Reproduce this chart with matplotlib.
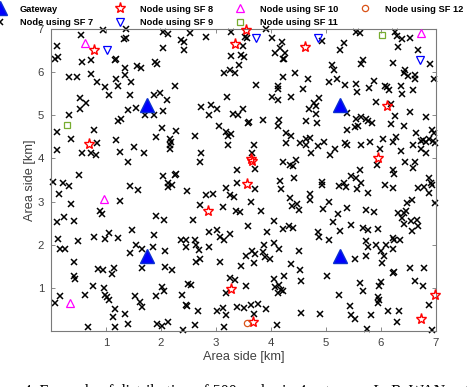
import numpy as np
import matplotlib.pyplot as plt

plt.rcParams['font.family'] = ['Liberation Sans', 'DejaVu Sans']

# node positions [km]
gateways = [(1.75, 5.25), (5.25, 5.25), (1.75, 1.75), (5.25, 1.75)]

sf7_top_left = [
    (0.55, 6.85), (0.95, 6.98), (1.37, 6.99), (1.36, 6.80), (1.33, 6.76), (2.04, 6.94), (2.13, 6.88),
    (0.10, 6.61), (2.04, 6.57), (0.07, 6.30), (0.13, 6.35), (0.57, 6.23), (0.72, 6.27), (1.16, 6.27),
    (1.19, 6.30), (1.89, 6.24), (1.92, 6.18), (1.34, 6.10), (1.57, 6.14), (1.63, 6.09), (0.32, 5.89),
    (0.47, 5.89), (0.72, 5.95), (1.34, 5.93), (1.19, 5.85), (0.84, 5.78), (1.46, 5.78), (1.22, 5.68),
    (0.99, 5.66), (2.25, 5.69), (1.06, 5.47), (1.44, 5.47), (1.87, 5.46), (1.98, 5.52), (0.53, 5.41),
    (0.64, 5.28), (2.10, 5.35), (0.53, 5.14), (1.40, 5.12), (1.55, 5.16), (1.70, 5.00), (1.87, 5.00),
    (2.04, 5.11), (0.32, 5.00), (1.22, 4.87), (1.28, 4.91), (0.79, 4.67), (2.01, 4.71), (0.10, 4.61),
    (2.27, 4.64), (1.90, 4.50), (0.36, 4.44), (2.16, 4.44), (2.19, 4.39), (2.17, 4.31), (2.16, 4.23),
    (1.18, 4.42), (0.84, 4.36), (1.51, 4.27), (0.10, 4.19), (0.56, 4.12), (0.73, 4.12), (0.81, 4.08),
    (1.25, 4.16), (1.69, 4.12), (1.40, 3.92), (0.51, 3.62), (2.04, 3.59), (2.27, 3.65), (2.25, 3.62),
]
sf7_top_mid = [
    (2.52, 6.90), (2.82, 6.81), (2.36, 6.74), (2.41, 6.71), (2.42, 6.51), (3.28, 6.93), (3.90, 6.99),
    (3.52, 6.81), (3.57, 6.79), (4.01, 6.80), (3.49, 6.61), (4.20, 6.70), (4.16, 6.55), (4.08, 6.44),
    (4.26, 6.44), (3.27, 6.37), (3.45, 6.40), (3.51, 6.34), (4.24, 6.31), (4.22, 6.30), (3.42, 6.17),
    (3.25, 6.06), (3.14, 5.97), (3.35, 5.99), (4.44, 5.99), (4.22, 5.89), (3.72, 5.70), (4.12, 5.68),
    (4.13, 5.60), (4.58, 5.62), (3.20, 5.42), (4.02, 5.42), (4.12, 5.35), (4.37, 5.43), (2.72, 5.19),
    (2.90, 5.23), (3.02, 5.15), (3.49, 5.14), (2.87, 5.01), (3.31, 5.04), (3.40, 5.00), (3.60, 4.84),
    (3.58, 4.83), (3.86, 4.89), (4.15, 4.89), (4.63, 4.87), (3.06, 4.75), (4.13, 4.75), (3.18, 4.61),
    (3.22, 4.53), (3.27, 4.56), (4.27, 4.58), (4.37, 4.52), (2.61, 4.53), (4.64, 4.46), (4.70, 4.48),
    (4.28, 4.35), (4.53, 4.35), (4.64, 4.31), (3.21, 4.31), (3.69, 4.30), (3.66, 4.13), (2.72, 4.13),
    (4.72, 4.12), (2.70, 3.92), (4.22, 3.92), (4.46, 3.96), (4.34, 3.84), (4.40, 3.82), (3.70, 3.76),
    (3.39, 3.73), (4.42, 3.55),
]
sf7_top_right = [
    (5.55, 6.93), (5.61, 6.91), (4.93, 6.72), (6.26, 6.93), (6.29, 6.84), (6.38, 6.76), (6.52, 6.80),
    (5.32, 6.67), (5.26, 6.51), (6.30, 6.59), (6.67, 6.51), (5.11, 6.16), (5.14, 6.06), (5.67, 6.27),
    (5.64, 6.20), (6.21, 6.22), (6.44, 6.06), (6.41, 5.97), (6.49, 5.91), (6.62, 5.93), (6.61, 5.85),
    (6.89, 6.18), (4.67, 5.85), (5.05, 5.77), (5.20, 5.85), (5.35, 5.70), (5.55, 5.73), (5.56, 5.54),
    (5.78, 5.64), (5.88, 5.79), (6.08, 5.69), (6.11, 5.66), (6.14, 5.58), (6.36, 5.69), (6.59, 5.58),
    (6.39, 5.50), (6.97, 5.83), (4.87, 5.41), (4.79, 5.29), (4.82, 5.21), (5.91, 5.31), (6.18, 5.27),
    (6.53, 5.08), (4.69, 5.14), (4.82, 5.04), (5.38, 5.06), (5.55, 4.92), (5.64, 4.97), (5.73, 4.91),
    (5.76, 4.87), (5.84, 4.81), (6.26, 4.98), (6.82, 4.97), (4.83, 4.81), (6.18, 4.79), (6.41, 4.75),
    (5.52, 4.74), (5.59, 4.75), (5.39, 4.66), (6.93, 4.66), (6.97, 4.58), (6.64, 4.60), (6.03, 4.46),
    (6.27, 4.50), (4.85, 4.29), (4.97, 4.39), (5.35, 4.36), (5.39, 4.31), (5.64, 4.31), (5.80, 4.39),
    (5.98, 4.23), (6.22, 4.39), (6.73, 4.40), (6.77, 4.42), (6.82, 4.39), (6.87, 4.44), (6.94, 4.40),
    (6.99, 4.36), (6.59, 4.31), (6.73, 4.23), (6.82, 4.12), (5.07, 4.07), (5.17, 4.21), (6.36, 4.17),
    (5.92, 3.84), (6.44, 3.92), (6.61, 3.92), (6.58, 3.77), (5.62, 3.73), (6.22, 3.73), (6.24, 3.65),
    (5.45, 3.59), (5.55, 3.55), (6.88, 3.54),
]
sf7_bottom_left = [
    (0.04, 3.45), (0.22, 3.42), (0.32, 3.35), (0.14, 3.18), (1.43, 3.35), (1.58, 3.26), (2.13, 3.43),
    (2.20, 3.39), (2.13, 3.33), (0.36, 2.94), (1.25, 3.01), (0.89, 2.77), (0.93, 2.71), (0.10, 2.53),
    (0.24, 2.64), (0.42, 2.54), (1.90, 2.66), (2.06, 2.57), (1.48, 2.33), (1.06, 2.27), (0.98, 2.14),
    (0.78, 2.17), (1.22, 2.16), (0.13, 2.13), (0.49, 2.08), (1.87, 2.22), (1.55, 1.99), (1.66, 1.90),
    (1.86, 1.95), (0.16, 1.89), (0.25, 1.89), (1.43, 1.81), (2.08, 1.86), (0.41, 1.59), (0.86, 1.44),
    (0.95, 1.41), (1.14, 1.46), (1.10, 1.31), (1.66, 1.46), (2.08, 1.48), (2.20, 1.41), (0.41, 1.28),
    (0.43, 1.21), (0.76, 1.04), (0.96, 1.00), (0.98, 0.84), (1.01, 0.79), (1.06, 0.71), (2.01, 1.02),
    (2.05, 0.92), (0.17, 0.80), (0.07, 0.66), (0.61, 0.84), (1.52, 0.80), (1.61, 0.67), (1.66, 0.56),
    (1.90, 0.80), (1.16, 0.52), (1.34, 0.40), (1.13, 0.33), (1.40, 0.17), (0.67, 0.09), (1.17, 0.09),
    (1.92, 0.17), (2.02, 0.11), (2.12, 0.21),
]
sf7_bottom_mid = [
    (2.48, 3.24), (2.81, 3.16), (2.95, 3.18), (3.18, 3.32), (3.39, 3.42), (3.25, 3.15), (3.33, 3.11),
    (3.70, 3.28), (4.16, 3.47), (4.19, 3.28), (4.34, 3.08), (4.48, 2.95), (4.39, 2.89), (4.50, 2.81),
    (4.70, 3.18), (4.70, 3.03), (2.70, 2.93), (3.12, 2.87), (3.64, 2.98), (3.36, 2.77), (3.43, 2.75),
    (3.81, 2.77), (2.58, 2.57), (4.05, 2.54), (3.58, 2.43), (4.33, 2.43), (4.40, 2.39), (4.22, 2.37),
    (3.92, 2.30), (2.87, 2.29), (3.02, 2.33), (3.07, 2.18), (3.15, 2.12), (3.25, 2.25), (2.37, 2.12),
    (2.46, 2.12), (2.61, 2.10), (2.46, 1.95), (2.64, 2.00), (2.69, 1.87), (2.87, 1.94), (3.87, 2.00),
    (4.05, 2.03), (4.15, 1.90), (4.50, 1.86), (3.66, 1.86), (3.70, 1.79), (3.54, 1.75), (3.86, 1.82),
    (3.89, 1.72), (3.98, 1.68), (2.70, 1.67), (2.64, 1.59), (3.07, 1.60), (3.69, 1.58), (3.46, 1.50),
    (4.37, 1.55), (4.52, 1.42), (4.24, 1.28), (3.26, 1.23), (3.35, 1.19), (4.05, 1.21), (4.15, 1.07),
    (4.07, 1.02), (4.13, 0.88), (4.22, 0.92), (4.18, 0.96), (4.54, 1.15), (3.55, 1.05), (2.49, 1.09),
    (2.54, 1.07), (3.19, 0.88), (2.38, 0.83), (2.46, 0.61), (2.48, 0.59), (3.39, 0.55), (3.12, 0.53),
    (3.02, 0.46), (3.18, 0.38), (3.63, 0.60), (3.76, 0.63), (3.51, 0.53), (3.90, 0.52), (2.67, 0.46),
    (3.69, 0.39), (4.55, 0.42), (2.61, 0.13), (3.15, 0.09), (4.10, 0.15), (2.40, 0.03),
]
sf7_bottom_right = [
    (4.93, 3.45), (4.93, 3.38), (5.24, 3.35), (5.32, 3.42), (5.36, 3.33), (5.56, 3.28), (5.64, 3.43),
    (5.76, 3.20), (6.07, 3.39), (6.21, 3.32), (5.06, 2.99), (4.95, 2.83), (5.21, 2.72), (5.38, 2.85),
    (5.73, 2.81), (5.88, 2.75), (6.68, 3.32), (6.79, 3.34), (6.87, 3.20), (6.91, 3.42), (6.93, 3.38),
    (6.56, 3.03), (6.47, 2.97), (6.99, 2.97), (6.30, 2.74), (6.42, 2.74), (6.45, 2.79), (6.39, 2.62),
    (6.41, 2.47), (6.55, 2.54), (6.65, 2.58), (6.67, 2.44), (6.56, 2.31), (5.13, 2.52), (5.45, 2.45),
    (5.68, 2.39), (5.76, 2.33), (5.94, 2.37), (5.26, 2.31), (4.85, 2.29), (4.88, 2.17), (5.05, 2.12),
    (5.72, 2.08), (5.76, 1.94), (5.91, 2.00), (6.09, 2.00), (6.22, 2.16), (6.24, 2.10), (6.35, 2.12),
    (6.21, 1.91), (6.00, 1.85), (6.05, 1.73), (5.72, 1.73), (5.53, 1.67), (6.02, 1.58), (6.22, 1.35),
    (6.24, 1.37), (6.52, 1.46), (6.78, 1.46), (5.01, 1.27), (5.62, 1.11), (6.00, 1.14), (5.97, 1.04),
    (6.61, 1.15), (6.76, 1.04), (5.68, 0.92), (5.23, 0.84), (5.95, 0.79), (5.96, 0.71), (5.95, 0.65),
    (5.44, 0.59), (6.88, 0.61), (6.13, 0.47), (6.32, 0.46), (4.89, 0.39), (5.45, 0.36), (5.53, 0.28),
    (5.81, 0.38), (6.29, 0.22), (5.74, 0.05), (6.93, 0.02),
]

sf8 = [(0.78, 6.51), (0.69, 4.33), (3.55, 6.97), (3.35, 6.66), (4.61, 6.59), (3.63, 3.98),
       (3.66, 3.94), (3.56, 3.40), (6.11, 5.21), (5.94, 4.02), (2.86, 2.77), (3.27, 0.98),
       (3.67, 0.21), (6.99, 0.83), (6.72, 0.28)]
sf9 = [(1.01, 6.51), (3.73, 6.78), (4.85, 6.80), (6.70, 6.28)]
sf10 = [(0.62, 6.67), (6.73, 6.90), (0.96, 3.07), (0.34, 0.66)]
sf11 = [(0.29, 4.78), (6.02, 6.85)]
sf12 = [(3.57, 0.19)]

sf7 = sf7_top_left + sf7_top_mid + sf7_top_right + sf7_bottom_left + sf7_bottom_mid + sf7_bottom_right


def xy(pts):
    a = np.array(pts)
    return a[:, 0], a[:, 1]


fig = plt.figure(figsize=(4.74, 3.87), dpi=100)
ax = fig.add_axes([51 / 474, 1 - 331 / 387, 385 / 474, 302 / 387])

ax.plot(*xy(gateways), '^', color='#0000ff', mec='#0a2fd0', ms=10, clip_on=False, zorder=4, label='Gateway')
ax.plot(*xy(sf7), 'x', color='k', ms=4, mew=1.1, clip_on=False, label='Node using SF 7')
ax.plot(*xy(sf8), '*', mfc='none', mec='#ff0000', ms=8, mew=1.0, clip_on=False, zorder=3, label='Node using SF 8')
ax.plot(*xy(sf9), 'v', mfc='none', mec='#0000ff', ms=6, mew=0.9, clip_on=False, zorder=3, label='Node using SF 9')
ax.plot(*xy(sf10), '^', mfc='none', mec='#ff00ff', ms=5.5, mew=0.9, clip_on=False, zorder=3, label='Node using SF 10')
ax.plot(*xy(sf11), 's', mfc='none', mec='#77ac30', ms=4.5, mew=0.9, clip_on=False, zorder=3, label='Node using SF 11')
ax.plot(*xy(sf12), 'o', mfc='none', mec='#d95319', ms=4.5, mew=0.9, clip_on=False, zorder=3, label='Node using SF 12')

ax.set_xlim(0, 7)
ax.set_ylim(0, 7)
ax.set_xticks(range(1, 8))
ax.set_yticks(range(1, 8))
ax.tick_params(direction='in', top=True, right=True, length=3, width=0.6,
               color='#777777', labelcolor='#404040', labelsize=8.2, pad=5)
for s in ax.spines.values():
    s.set_color('#7a7a7a')
    s.set_linewidth(0.8)
ax.set_xlabel('Area side [km]', fontsize=9.2, color='#404040', labelpad=2)
ax.set_ylabel('Area side [km]', fontsize=9.2, color='#404040', labelpad=1)

fig.legend(loc='upper left', bbox_to_anchor=(-0.0098, 0.988), ncol=4, frameon=False,
           prop={'weight': 'bold', 'size': 6.7}, handlelength=1.0, handletextpad=1.65,
           columnspacing=2.39, borderpad=0, borderaxespad=0, labelspacing=0.45)

fig.text(-22 / 474, -0.022, 'Figure 4. Example of distribution of 500 nodes in 4 gateways LoRaWAN network',
         family=['Liberation Serif', 'DejaVu Serif'], fontsize=11.5, ha='left', va='baseline')

fig.savefig('out.png', dpi=100)
